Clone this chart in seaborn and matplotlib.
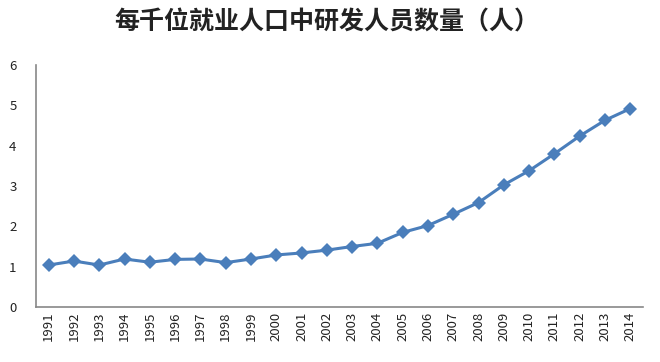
import pandas as pd
import matplotlib
matplotlib.use('Agg')
import matplotlib.pyplot as plt
import seaborn as sns

# Data
years = [str(y) for y in range(1991, 2015)]
values = [1.04, 1.14, 1.04, 1.19, 1.11, 1.18, 1.19, 1.10, 1.19, 1.29,
          1.34, 1.41, 1.50, 1.58, 1.85, 2.02, 2.30, 2.59, 3.03, 3.38,
          3.80, 4.24, 4.63, 4.92]
title = '每千位就业人口中研发人员数量（人）'
y_ticks = [0, 1, 2, 3, 4, 5, 6]


def main():
    sns.set_style('white')
    plt.rcParams['font.family'] = ['Noto Sans CJK SC', 'DejaVu Sans']

    df = pd.DataFrame({'year': years, 'value': values})

    fig = plt.figure(figsize=(6.6, 3.62), dpi=100)
    ax = fig.add_axes([36 / 660, 1 - 307 / 362, 607 / 660, 242 / 362])

    sns.lineplot(data=df, x='year', y='value', ax=ax, color='#4a7ebb',
                 linewidth=2.2, marker='D', markersize=7, markeredgewidth=0)

    ax.set_ylim(0, 6)
    ax.set_yticks(y_ticks)
    ax.set_xlim(-0.5, len(years) - 0.5)
    ax.set_xlabel('')
    ax.set_ylabel('')
    ax.tick_params(axis='both', length=0, labelsize=9.5, colors='#222222')
    ax.tick_params(axis='y', pad=14)
    plt.setp(ax.get_xticklabels(), rotation=90)

    for side in ['top', 'right']:
        ax.spines[side].set_visible(False)
    for side in ['left', 'bottom']:
        ax.spines[side].set_color('#888888')
        ax.spines[side].set_linewidth(1.2)

    fig.text(327 / 660, 1 - 22 / 362, title, ha='center', va='center',
             fontsize=18, fontweight='bold', color='#222222')

    fig.savefig('out.png', dpi=100)


if __name__ == '__main__':
    main()
